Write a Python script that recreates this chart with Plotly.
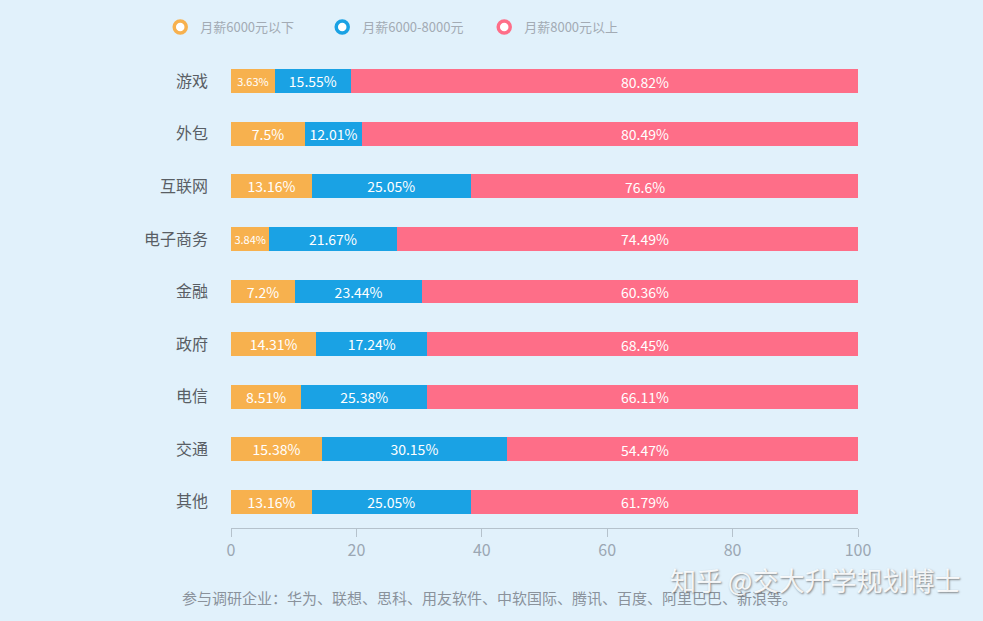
import plotly.graph_objects as go

categories = ["游戏", "外包", "互联网", "电子商务", "金融", "政府", "电信", "交通", "其他"]
series_names = ["月薪6000元以下", "月薪6000-8000元", "月薪8000元以上"]

# segment lengths as drawn in the picture (axis units)
low_len = [7.0, 11.8, 12.9, 6.1, 10.2, 13.6, 11.2, 14.5, 12.9]
mid_len = [12.1, 9.1, 25.3, 20.3, 20.3, 17.7, 20.1, 29.5, 25.3]
high_len = [80.9, 79.1, 61.8, 73.6, 69.5, 68.7, 68.7, 56.0, 61.8]

# printed labels
low_lab = ["3.63%", "7.5%", "13.16%", "3.84%", "7.2%", "14.31%", "8.51%", "15.38%", "13.16%"]
mid_lab = ["15.55%", "12.01%", "25.05%", "21.67%", "23.44%", "17.24%", "25.38%", "30.15%", "25.05%"]
high_lab = ["80.82%", "80.49%", "76.6%", "74.49%", "60.36%", "68.45%", "66.11%", "54.47%", "61.79%"]

x_ticks = [0, 20, 40, 60, 80, 100]

colors = ["#f7b14e", "#1aa2e4", "#fe6e88"]
FONT = "Noto Sans CJK SC"
HIGH_LABEL_X = 66

low_sizes = [11 if t in ("3.63%", "3.84%") else 14 for t in low_lab]

fig = go.Figure()
fig.add_trace(go.Bar(y=categories, x=low_len, orientation="h", marker=dict(color=colors[0], line_width=0),
                     text=low_lab, textposition="inside", insidetextanchor="middle", constraintext="none",
                     textfont=dict(color="white", size=low_sizes, family=FONT),
                     showlegend=False, hoverinfo="skip"))
fig.add_trace(go.Bar(y=categories, x=mid_len, orientation="h", marker=dict(color=colors[1], line_width=0),
                     text=mid_lab, textposition="inside", insidetextanchor="middle", constraintext="none",
                     textfont=dict(color="white", size=14, family=FONT),
                     showlegend=False, hoverinfo="skip"))
fig.add_trace(go.Bar(y=categories, x=high_len, orientation="h", marker=dict(color=colors[2], line_width=0),
                     textposition="none", showlegend=False, hoverinfo="skip"))

for name, c in zip(series_names, colors):
    fig.add_trace(go.Scatter(x=[None], y=[None], mode="markers", name=name,
                             marker=dict(symbol="circle", size=12, color="white",
                                         line=dict(color=c, width=3.5))))

annotations = [
    dict(text=lab, x=HIGH_LABEL_X, y=cat, xref="x", yref="y", showarrow=False, yshift=-0.5,
         font=dict(color="white", size=14, family=FONT))
    for cat, lab in zip(categories, high_lab)
]
annotations += [
    dict(text="参与调研企业：华为、联想、思科、用友软件、中软国际、腾讯、百度、阿里巴巴、新浪等。",
         xref="paper", yref="paper", x=-0.081, y=-0.147, xanchor="left", yanchor="middle",
         showarrow=False, font=dict(size=15, color="#8a929b", family=FONT)),
    dict(text="知乎 @交大升学规划博士",
         xref="paper", yref="paper", x=0.697, y=-0.109, xanchor="left", yanchor="middle",
         showarrow=False, font=dict(size=26, color="rgba(255,255,255,0.9)", family=FONT,
                                     shadow="1px 1px 2px rgba(90,90,90,0.8)")),
]

fig.update_layout(
    width=983, height=621,
    barmode="stack", bargap=0.544,
    paper_bgcolor="#e1f1fb", plot_bgcolor="#e1f1fb",
    margin=dict(l=231, r=125, t=55, b=93),
    font=dict(family=FONT),
    legend=dict(orientation="h", traceorder="normal", xref="container", yref="container",
                x=0.163, y=0.9565, xanchor="left", yanchor="middle", entrywidth=117, itemclick=False,
                font=dict(size=13, color="#a3abb4", family=FONT), bgcolor="rgba(0,0,0,0)"),
    xaxis=dict(range=[0, 100], tickvals=x_ticks, showgrid=False, zeroline=False,
               showline=True, linecolor="#b5c2cc", linewidth=1,
               ticks="outside", ticklen=8, tickcolor="#b5c2cc",
               tickfont=dict(size=16, color="#9ba7b3", family=FONT)),
    yaxis=dict(categoryorder="array", categoryarray=categories, autorange="reversed",
               showgrid=False, zeroline=False, showline=False, ticks="",
               ticklabelstandoff=22,
               tickfont=dict(size=16, color="#595e64", family=FONT)),
    annotations=annotations,
)

fig.write_html("out.html")
